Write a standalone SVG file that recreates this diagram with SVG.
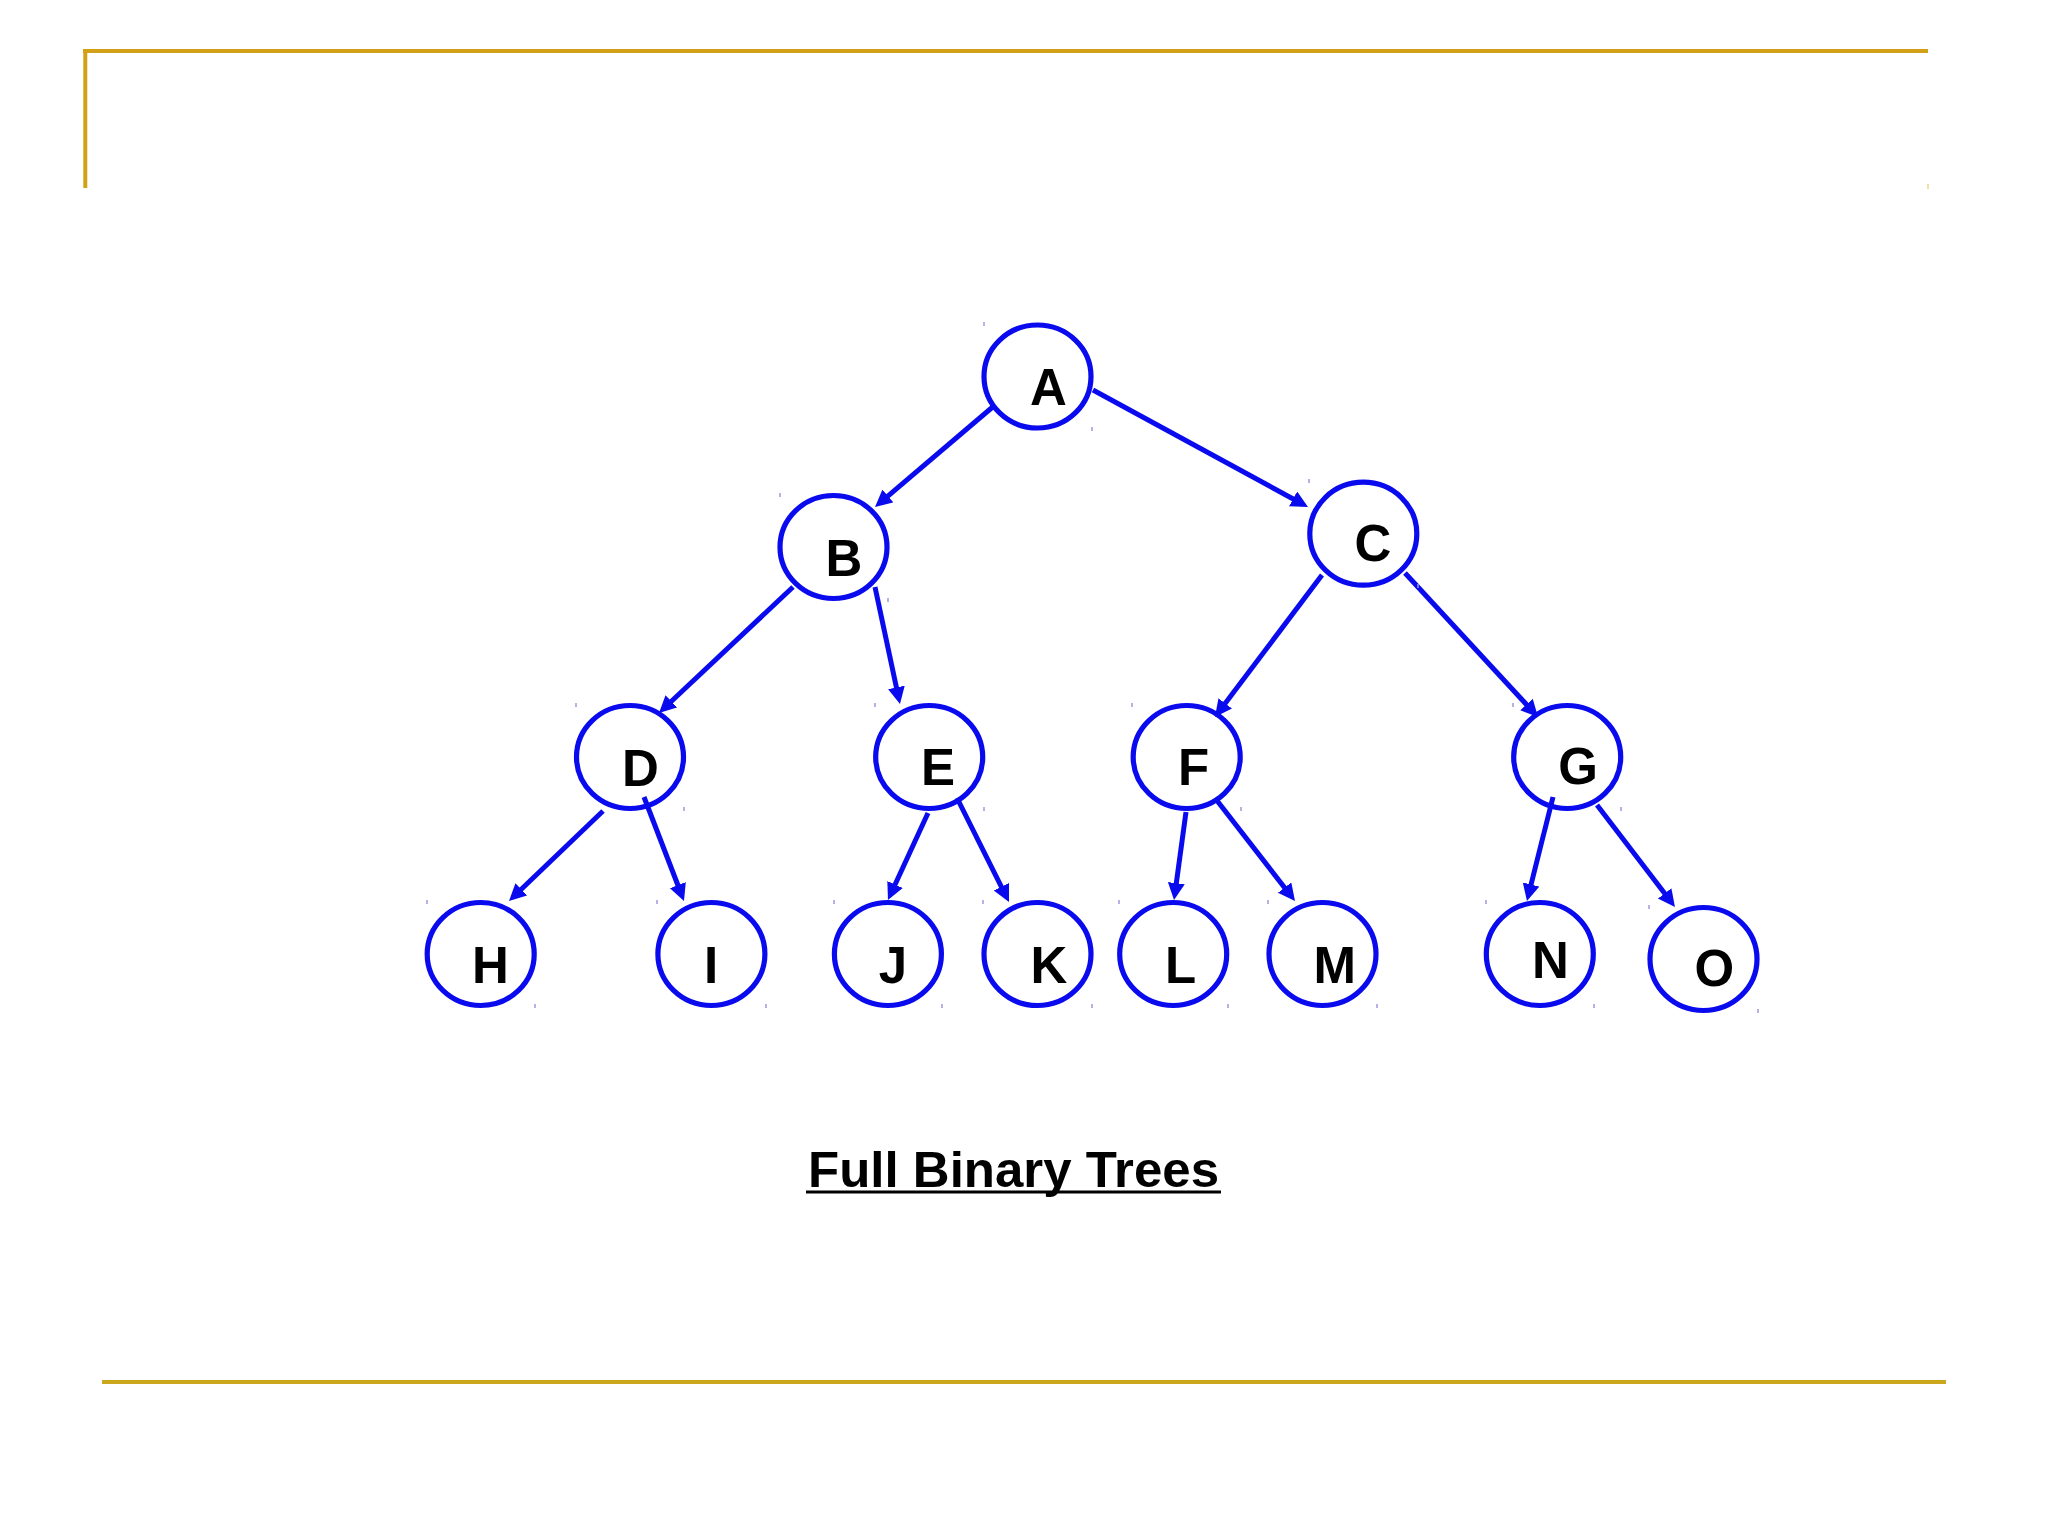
<svg xmlns="http://www.w3.org/2000/svg" width="2048" height="1536" viewBox="0 0 2048 1536">
<style>
.node{fill:#ffffff;stroke:#0a0aee;stroke-width:5.2}
.lbl{font-family:"Liberation Sans",Arial,sans-serif;font-weight:bold;font-size:51px;fill:#000;text-anchor:middle}
.edge{stroke:#0a0aee;stroke-width:5;fill:none;marker-end:url(#arr)}
.tick{stroke:#9a9ae0;stroke-width:1.5}
.frame{stroke-width:4;fill:none}
</style>
<defs>
<marker id="arr" markerUnits="userSpaceOnUse" markerWidth="20" markerHeight="20" refX="9" refY="8.5" orient="auto">
<path d="M0,0 L17,8.5 L0,17 z" fill="#0a0aee"/>
</marker>
</defs>
<rect width="2048" height="1536" fill="#ffffff"/>
<g id="frame">
<line class="frame" stroke="#d3a118" x1="83" y1="51" x2="1928" y2="51"/>
<line class="frame" stroke="#d3a118" x1="85.3" y1="49" x2="85.3" y2="188"/>
<line stroke="#e8d890" stroke-width="1.5" x1="1928" y1="184" x2="1928" y2="189"/>
<line class="frame" stroke="#c9a61c" x1="102" y1="1382" x2="1946" y2="1382"/>
</g>
<g id="connectors">
<line class="edge" x1="995" y1="405" x2="881.1" y2="501.8"/>
<line class="edge" x1="1093" y1="390" x2="1301" y2="503.2"/>
<line class="edge" x1="793" y1="587" x2="664.8" y2="707.5"/>
<line class="edge" x1="875" y1="587" x2="898.3" y2="696.2"/>
<line class="edge" x1="1322" y1="575" x2="1219.8" y2="710.6"/>
<line class="edge" x1="1405" y1="573" x2="1532.6" y2="711.1"/>
<line class="edge" x1="603" y1="811" x2="514.8" y2="895.5"/>
<line class="edge" x1="644" y1="797" x2="681.1" y2="893.5"/>
<line class="edge" x1="928" y1="813" x2="891.3" y2="892.7"/>
<line class="edge" x1="957" y1="798" x2="1005.4" y2="894.8"/>
<line class="edge" x1="1186" y1="812" x2="1175.1" y2="892.1"/>
<line class="edge" x1="1215" y1="798" x2="1290.1" y2="894.7"/>
<line class="edge" x1="1553" y1="797" x2="1528.9" y2="893.2"/>
<line class="edge" x1="1597" y1="805" x2="1670.1" y2="900.6"/>
</g>
<g id="node-A"><ellipse class="node" cx="1037.5" cy="376.5" rx="53.5" ry="51.5" fill-opacity="0"/><text class="lbl" x="1048.5" y="405">A</text></g>
<g id="node-B"><ellipse class="node" cx="833.5" cy="547" rx="53.5" ry="51.5" fill-opacity="0"/><text class="lbl" x="844" y="576">B</text></g>
<g id="node-C"><ellipse class="node" cx="1363.3" cy="533.7" rx="53.5" ry="51.5" fill-opacity="0"/><text class="lbl" x="1373" y="561">C</text></g>
<g id="node-D"><ellipse class="node" cx="630" cy="757" rx="53.5" ry="51.5" fill-opacity="0"/><text class="lbl" x="640.5" y="785.5">D</text></g>
<g id="node-E"><ellipse class="node" cx="929.2" cy="757" rx="53.5" ry="51.5" fill-opacity="0"/><text class="lbl" x="938" y="785">E</text></g>
<g id="node-F"><ellipse class="node" cx="1186.7" cy="757" rx="53.5" ry="51.5" fill-opacity="0"/><text class="lbl" x="1193.6" y="785">F</text></g>
<g id="node-G"><ellipse class="node" cx="1567.2" cy="757" rx="53.5" ry="51.5" fill-opacity="0"/><text class="lbl" x="1578" y="784">G</text></g>
<g id="node-H"><ellipse class="node" cx="480.7" cy="954" rx="53.5" ry="51.5" fill-opacity="0"/><text class="lbl" x="490.5" y="982.7">H</text></g>
<g id="node-I"><ellipse class="node" cx="711.4" cy="954" rx="53.5" ry="51.5" fill-opacity="0"/><text class="lbl" x="711" y="982.7">I</text></g>
<g id="node-J"><ellipse class="node" cx="887.9" cy="954" rx="53.5" ry="51.5" fill-opacity="0"/><text class="lbl" x="893" y="982.7">J</text></g>
<g id="node-K"><ellipse class="node" cx="1037.5" cy="954" rx="53.5" ry="51.5" fill-opacity="0"/><text class="lbl" x="1048.8" y="982.7">K</text></g>
<g id="node-L"><ellipse class="node" cx="1173.2" cy="954" rx="53.5" ry="51.5" fill-opacity="0"/><text class="lbl" x="1180.5" y="982.7">L</text></g>
<g id="node-M"><ellipse class="node" cx="1322.5" cy="954" rx="53.5" ry="51.5" fill-opacity="0"/><text class="lbl" x="1334.8" y="982.7">M</text></g>
<g id="node-N"><ellipse class="node" cx="1539.8" cy="954" rx="53.5" ry="51.5" fill-opacity="0"/><text class="lbl" x="1550.3" y="978.3">N</text></g>
<g id="node-O"><ellipse class="node" cx="1703.5" cy="959" rx="53.5" ry="51.5" fill-opacity="0"/><text class="lbl" x="1714.3" y="986">O</text></g>
<g id="ticks">
<line class="tick" x1="984" y1="322" x2="984" y2="326"/><line class="tick" x1="1092" y1="427" x2="1092" y2="431"/>
<line class="tick" x1="780" y1="493" x2="780" y2="497"/><line class="tick" x1="888" y1="598" x2="888" y2="602"/>
<line class="tick" x1="1309" y1="479" x2="1309" y2="483"/><line class="tick" x1="1418" y1="584" x2="1418" y2="588"/>
<line class="tick" x1="576" y1="703" x2="576" y2="707"/><line class="tick" x1="684" y1="807" x2="684" y2="811"/>
<line class="tick" x1="875" y1="703" x2="875" y2="707"/><line class="tick" x1="984" y1="807" x2="984" y2="811"/>
<line class="tick" x1="1132" y1="703" x2="1132" y2="707"/><line class="tick" x1="1241" y1="807" x2="1241" y2="811"/>
<line class="tick" x1="1513" y1="703" x2="1513" y2="707"/><line class="tick" x1="1621" y1="807" x2="1621" y2="811"/>
<line class="tick" x1="427" y1="900" x2="427" y2="904"/><line class="tick" x1="535" y1="1004" x2="535" y2="1008"/>
<line class="tick" x1="657" y1="900" x2="657" y2="904"/><line class="tick" x1="766" y1="1004" x2="766" y2="1008"/>
<line class="tick" x1="834" y1="900" x2="834" y2="904"/><line class="tick" x1="942" y1="1004" x2="942" y2="1008"/>
<line class="tick" x1="983" y1="900" x2="983" y2="904"/><line class="tick" x1="1092" y1="1004" x2="1092" y2="1008"/>
<line class="tick" x1="1119" y1="900" x2="1119" y2="904"/><line class="tick" x1="1228" y1="1004" x2="1228" y2="1008"/>
<line class="tick" x1="1268" y1="900" x2="1268" y2="904"/><line class="tick" x1="1377" y1="1004" x2="1377" y2="1008"/>
<line class="tick" x1="1486" y1="900" x2="1486" y2="904"/><line class="tick" x1="1594" y1="1004" x2="1594" y2="1008"/>
<line class="tick" x1="1649" y1="905" x2="1649" y2="909"/><line class="tick" x1="1758" y1="1009" x2="1758" y2="1013"/>
</g>
<g id="title">
<text x="808" y="1187" font-family="'Liberation Sans',Arial,sans-serif" font-weight="bold" font-size="50" textLength="411" lengthAdjust="spacingAndGlyphs" fill="#000">Full Binary Trees</text>
<line x1="806" y1="1192" x2="1221" y2="1192" stroke="#000" stroke-width="3"/>
</g>
</svg>
